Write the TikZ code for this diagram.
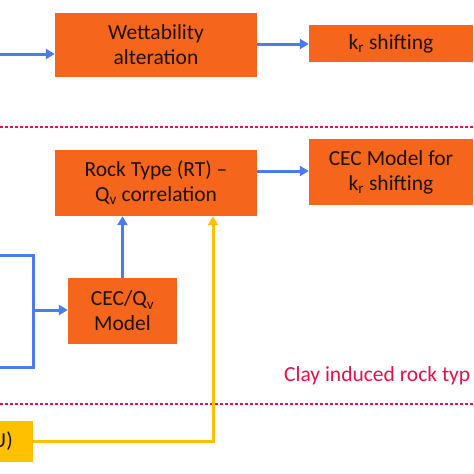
\documentclass[tikz,border=0pt]{standalone}
\usepackage{fontspec}
\setmainfont{Carlito}
\usetikzlibrary{arrows.meta}
\definecolor{boxorange}{HTML}{F5661C}
\definecolor{boxyellow}{HTML}{FFC000}
\definecolor{lineblue}{HTML}{4A7CF0}
\definecolor{linered}{HTML}{E3104A}
\definecolor{txtdark}{HTML}{1E120A}
\tikzset{
  obox/.style={draw=none, fill=boxorange, text=txtdark, font=\fontsize{21.5}{25}\selectfont, align=center, inner sep=0pt},
  ybox/.style={draw=none, fill=boxyellow, text=txtdark, font=\fontsize{21.5}{25}\selectfont, inner sep=0pt},
  barrow/.style={draw=lineblue, line width=3pt, -{Triangle[length=9pt,width=10pt]}},
  bline/.style={draw=lineblue, line width=3pt},
  yarrow/.style={draw=boxyellow, line width=3pt, -{Triangle[length=9pt,width=10pt]}},
  rdash/.style={draw=linered, line width=1.3pt, dash pattern=on 3pt off 2pt},
}
\begin{document}
\begin{tikzpicture}[x=1pt,y=-1pt]
\useasboundingbox (0,0) rectangle (474,474);
\clip (0,0) rectangle (474,474);
% boxes
\node[obox, minimum width=202pt, minimum height=64pt] (wet) at (156,45) {Wettability\\alteration};
\node[obox, minimum width=164pt, minimum height=37pt] (kr) at (391,43.5) {k\textsubscript{r} shifting};
\node[obox, minimum width=202pt, minimum height=66pt] (rt) at (156,183) {Rock Type (RT) –\\Q\textsubscript{v} correlation};
\node[obox, minimum width=164pt, minimum height=66pt] (cec) at (391,172) {CEC Model for\\k\textsubscript{r} shifting};
\node[obox, minimum width=109pt, minimum height=66pt] (cecq) at (122.5,311) {CEC/Q\textsubscript{v}\\Model};
\node[ybox, minimum width=60pt, minimum height=41pt, anchor=east] (yel) at (33,441.5) {\hspace*{30pt}U)\hspace*{20pt}};
% dashed separators
\coordinate (d1a) at (0,127); \coordinate (d1b) at (474,127);
\coordinate (d2a) at (0,404); \coordinate (d2b) at (474,404);
\draw[rdash] (d1a) -- (d1b);
\draw[rdash] (d2a) -- (d2b);
% label
\node[anchor=base west, text=linered, font=\fontsize{21.5}{25}\selectfont, inner sep=0pt] (lbl) at (284,381) {Clay induced rock typ};
% top arrows
\coordinate (in1) at (0,54);
\draw[barrow] (in1) -- (in1 -| wet.west);
\coordinate (w1) at (257,44);
\draw[barrow] (w1) -- (w1 -| kr.west);
\coordinate (r1) at (257,171);
\draw[barrow] (r1) -- (r1 -| cec.west);
% CEC/Qv up to RT
\draw[barrow] (cecq.north) -- (cecq.north |- rt.south);
% bracket
\coordinate (b1) at (0,255); \coordinate (b2) at (33,255);
\coordinate (b3) at (33,367); \coordinate (b4) at (0,367);
\draw[bline] (b1) -- (b2) -- (b3) -- (b4);
\coordinate (bm) at (33,310);
\draw[barrow] (bm) -- (bm -| cecq.west);
% yellow connector
\coordinate (yc) at (213,441.5);
\draw[yarrow] (yel.east) -- (yc) -- (yc |- rt.south);
\end{tikzpicture}
\end{document}
